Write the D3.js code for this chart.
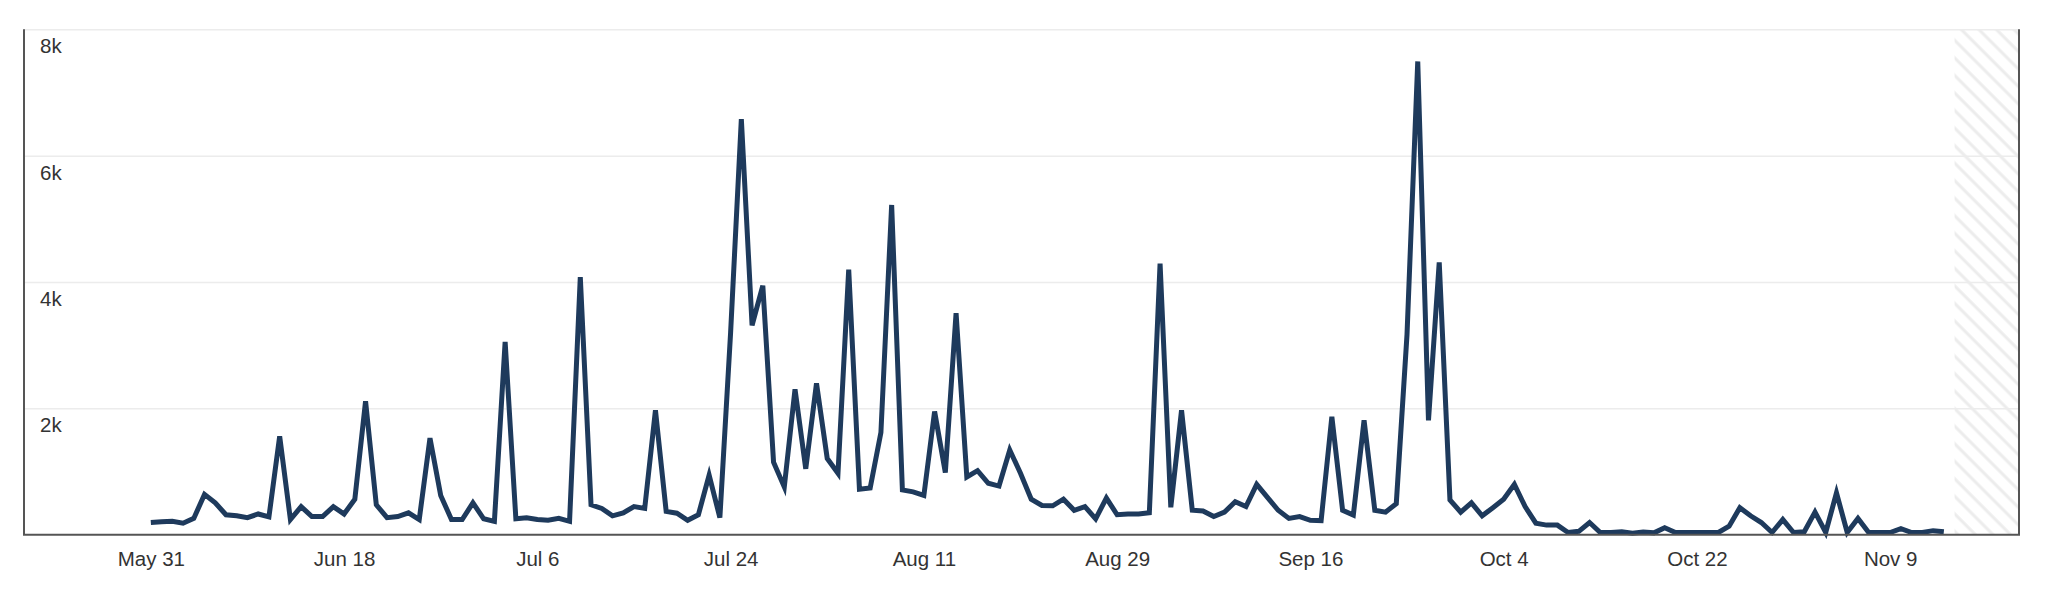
<!DOCTYPE html>
<meta charset="utf-8">
<title>Daily count</title>
<style>
body {
  margin: 0px;
  background: #fff;
  font: 20.5px "Liberation Sans", Arial, sans-serif;
}
.grid line {
  stroke: #ececec;
  stroke-width: 1.5;
}
.grid text, .xaxis text {
  fill: #333;
  font: 20.5px "Liberation Sans", Arial, sans-serif;
}
.frame {
  stroke: #555;
  stroke-width: 2;
  fill: none;
}
path.series {
  fill: none;
  stroke: #1e3a5c;
  stroke-width: 5;
}
</style>

<script src="https://d3js.org/d3.v7.min.js"></script>

<body>
<script>
var width = 2048, height = 607;
// plot area (window.top is taken, so use other names)
var plotLeft = 24, plotRight = 2019, plotTop = 29.3, plotBottom = 534.7;

// first and last day of the series (one value per day)
var firstDay = "2021-05-31", lastDay = "2021-11-14";
var values = [
  193, 205, 211, 182, 258, 638, 504, 316, 299, 269,
  328, 281, 1558, 240, 445, 287, 287, 445, 328, 562,
  2114, 474, 269, 287, 346, 240, 1529, 621, 240, 240,
  504, 252, 211, 3051, 252, 269, 240, 228, 258, 211,
  4077, 474, 416, 299, 346, 445, 416, 1968, 369, 340,
  228, 316, 943, 269, 3200, 6578, 3315, 3942, 1148, 756,
  2302, 1043, 2396, 1207, 972, 4194, 720, 738, 1617, 5219,
  709, 679, 621, 1950, 984, 3508, 914, 1013, 814, 770,
  1341, 972, 562, 463, 457, 562, 387, 445, 252, 580,
  316, 328, 328, 346, 4293, 433, 1968, 387, 375, 287,
  357, 521, 445, 797, 592, 387, 258, 287, 228, 223,
  1868, 387, 310, 1810, 387, 357, 492, 3169, 7491, 1810,
  4311, 551, 357, 504, 299, 428, 562, 797, 445, 182,
  152, 152, 35, 53, 193, 35, 35, 47, 23, 41,
  29, 111, 35, 35, 35, 35, 35, 135, 428, 299,
  193, 35, 240, 35, 47, 357, 35, 662, 35, 258,
  35, 35, 35, 94, 35, 35, 64, 47
];
var xTicks = ["2021-05-31", "2021-06-18", "2021-07-06", "2021-07-24", "2021-08-11",
              "2021-08-29", "2021-09-16", "2021-10-04", "2021-10-22", "2021-11-09"];
var yTicks = [2000, 4000, 6000, 8000];
var yLabels = ["2k", "4k", "6k", "8k"];
var xDomain = ["2021-05-19T04:30:00Z", "2021-11-21T00:00:00Z"];
var hatchFrom = "2021-11-15";

var parse = d3.utcParse("%Y-%m-%d");
var days = d3.utcDay.range(parse(firstDay), d3.utcDay.offset(parse(lastDay), 1));
var data = days.map(function(d, i) { return {date: d, value: values[i]}; });

var svg = d3.select("body").append("svg")
    .attr("width", width)
    .attr("height", height);

var x = d3.scaleUtc()
    .domain(xDomain.map(function(d) { return new Date(d); }))
    .range([plotLeft, plotRight]);
var y = d3.scaleLinear()
    .domain([0, 8000])
    .range([plotBottom, plotTop]);

// hatched area for the incomplete period
var defs = svg.append("defs");
defs.append("pattern")
    .attr("id", "hatch")
    .attr("patternUnits", "userSpaceOnUse")
    .attr("width", 12.4)
    .attr("height", 12.4)
    .attr("patternTransform", "rotate(-45)")
  .append("line")
    .attr("x1", 2).attr("x2", 2)
    .attr("y1", 0).attr("y2", 12.4)
    .attr("stroke", "#ececec")
    .attr("stroke-width", 3);

var hx = x(parse(hatchFrom));
svg.append("rect")
    .attr("x", hx)
    .attr("y", plotTop)
    .attr("width", plotRight - hx)
    .attr("height", plotBottom - plotTop)
    .attr("fill", "url(#hatch)");

// gridlines + labels inside the plot
var grid = svg.append("g")
    .attr("class", "grid")
    .attr("transform", "translate(" + plotLeft + ",0)")
    .call(d3.axisLeft(y)
      .tickValues(yTicks)
      .tickSize(-(plotRight - plotLeft))
      .tickFormat(function(d, i) { return yLabels[i]; }));
grid.select(".domain").remove();
grid.selectAll("text")
    .attr("text-anchor", "start")
    .attr("x", 16)
    .attr("dy", null)
    .attr("y", 23.5);

// x axis
var xaxis = svg.append("g")
    .attr("class", "xaxis")
    .attr("transform", "translate(0," + plotBottom + ")")
    .call(d3.axisBottom(x)
      .tickValues(xTicks.map(parse))
      .tickSize(0)
      .tickPadding(17)
      .tickFormat(d3.utcFormat("%b %-d")));
xaxis.select(".domain").remove();

// the line
var line = d3.line()
    .x(function(d) { return x(d.date); })
    .y(function(d) { return y(d.value); });
svg.append("path")
    .datum(data)
    .attr("class", "series")
    .attr("d", line);

// frame: left, bottom, right
svg.append("path")
    .attr("class", "frame")
    .attr("d", "M" + plotLeft + "," + plotTop + "V" + plotBottom + "H" + plotRight + "V" + plotTop);
</script>
